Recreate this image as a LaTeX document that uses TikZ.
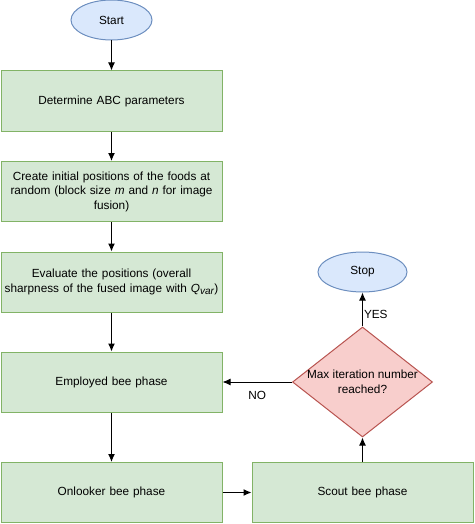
\documentclass[tikz,border=0pt]{standalone}
\usepackage{fontspec}
\setmainfont{Liberation Sans}
\usetikzlibrary{arrows,arrows.meta,shapes,calc}

\definecolor{phasefill}{HTML}{D5E8D4}
\definecolor{phaseline}{HTML}{82B366}
\definecolor{endfill}{HTML}{DAE8FC}
\definecolor{endline}{HTML}{6C8EBF}
\definecolor{testfill}{HTML}{F8CECC}
\definecolor{testline}{HTML}{B85450}

\begin{document}
\begin{tikzpicture}[x=1pt,y=-1pt,font=\fontsize{11.8}{14.5}\selectfont]
      \tikzset{
        phase/.style={draw=phaseline,fill=phasefill,line width=1pt,
          minimum width=221pt,minimum height=60pt,text width=218pt,
          align=center,inner sep=0pt},
        terminal/.style={ellipse,draw=endline,fill=endfill,line width=1pt,
          minimum height=40pt,inner sep=0pt},
        test/.style={diamond,draw=testline,fill=testfill,line width=1pt,
          aspect=1.27,minimum width=140pt,minimum height=110pt,
          inner sep=-6pt,align=center},
        flow/.style={-{Latex[length=8pt,width=7pt]},line width=1pt}
      }
      \useasboundingbox (0,0) rectangle (474,524);
      \def\lx{111.5}\def\rx{362.5}
      % Left column
      \node [terminal,minimum width=81pt] (start) at (\lx,20) {Start};
      \node [phase] (abc) at (\lx,101) {Determine ABC parameters};
      \node [phase] (init) at (\lx,191.5) {Create initial positions of the foods at\\
        random (block size \textit{m} and \textit{n} for image\\ fusion)};
      \node [phase] (eval) at (\lx,282) {Evaluate the positions (overall\\
        sharpness of the fused image with
        \textit{Q}\raisebox{-2.5pt}{\fontsize{10}{10}\selectfont\textit{var}})};
      \node [phase] (employed) at (\lx,382) {Employed bee phase};
      \node [phase] (onlooker) at (\lx,492.5) {Onlooker bee phase};
      % Right column
      \node [phase] (scout) at (\rx,492.5) {Scout bee phase};
      \node [test] (maxit) at (\rx,382) {Max iteration number\\ reached?};
      \node [terminal,minimum width=89pt] (stop) at (\rx,272) {Stop};
      % Connectors
      \draw [flow] (start) -- (abc);
      \draw [flow] (abc) -- (init);
      \draw [flow] (init) -- (eval);
      \draw [flow] (eval) -- (employed);
      \draw [flow] (employed) -- (onlooker);
      \draw [flow] (onlooker) -- (scout);
      \draw [flow] (scout) -- (maxit);
      \draw [flow] (maxit) -- node [pos=.35,anchor=west,inner sep=1pt] {YES} (stop);
      \draw [flow] (maxit) -- node [pos=.5,below=5pt] {NO} (employed);
    \end{tikzpicture}
\end{document}
